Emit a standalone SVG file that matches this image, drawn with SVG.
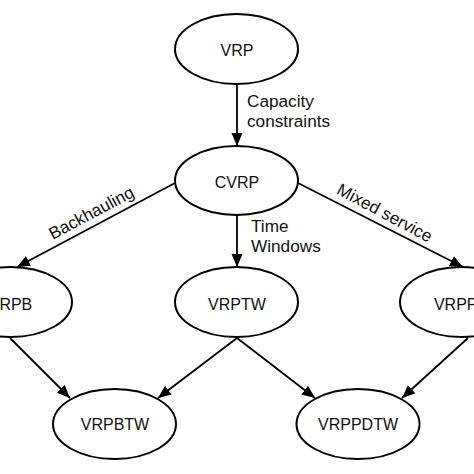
<svg xmlns="http://www.w3.org/2000/svg" width="474" height="474" viewBox="0 0 474 474">
<style>
.node ellipse{fill:#fff;stroke:#000;stroke-width:2}
.node text{font-family:"Liberation Sans",Arial,sans-serif;font-size:16px;text-anchor:middle;fill:#111}
.edge{stroke:#000;stroke-width:1.8;fill:none;marker-end:url(#ah)}
.lbl{font-family:"Liberation Sans",Arial,sans-serif;font-size:17.2px;fill:#111}
</style>
<defs>
<marker id="ah" markerUnits="userSpaceOnUse" markerWidth="14" markerHeight="12" refX="13" refY="5.5" orient="auto">
<path d="M0,0 L13,5.5 L0,11 Z" fill="#000"/>
</marker>
</defs>
<rect width="474" height="474" fill="#fff"/>
<g id="connectors">
<line class="edge" x1="237" y1="84" x2="237" y2="146"/>
<line class="edge" x1="175" y1="183" x2="17" y2="267"/>
<line class="edge" x1="237" y1="215" x2="237" y2="267"/>
<line class="edge" x1="298" y1="183" x2="463" y2="267"/>
<line class="edge" x1="10" y1="338" x2="70" y2="398"/>
<line class="edge" x1="237" y1="338" x2="158" y2="398"/>
<line class="edge" x1="237" y1="338" x2="315" y2="398"/>
<line class="edge" x1="468" y1="338" x2="402" y2="398"/>
<text class="lbl" x="247" y="107">Capacity</text>
<text class="lbl" x="247" y="127">constraints</text>
<text class="lbl" x="251" y="232">Time</text>
<text class="lbl" x="251" y="252">Windows</text>
<text class="lbl" text-anchor="middle" transform="translate(94,218) rotate(-28)">Backhauling</text>
<text class="lbl" text-anchor="middle" transform="translate(382,218) rotate(28)">Mixed service</text>
</g>
<g id="VRP" class="node"><ellipse cx="236.5" cy="49" rx="61.5" ry="35"/><text x="237" y="56">VRP</text></g>
<g id="CVRP" class="node"><ellipse cx="236.5" cy="180.5" rx="61.5" ry="34.5"/><text x="237" y="188">CVRP</text></g>
<g id="VRPB" class="node"><ellipse cx="10.5" cy="302" rx="61.5" ry="35"/><text x="10.5" y="310">VRPB</text></g>
<g id="VRPTW" class="node"><ellipse cx="236.5" cy="302" rx="61.5" ry="35"/><text x="237" y="310">VRPTW</text></g>
<g id="VRPPD" class="node"><ellipse cx="461.5" cy="302" rx="61.5" ry="35"/><text x="461.5" y="310">VRPPD</text></g>
<g id="VRPBTW" class="node"><ellipse cx="114.5" cy="424" rx="61.5" ry="35"/><text x="115" y="430">VRPBTW</text></g>
<g id="VRPPDTW" class="node"><ellipse cx="358" cy="424" rx="61.5" ry="35"/><text x="358" y="430">VRPPDTW</text></g>
</svg>
